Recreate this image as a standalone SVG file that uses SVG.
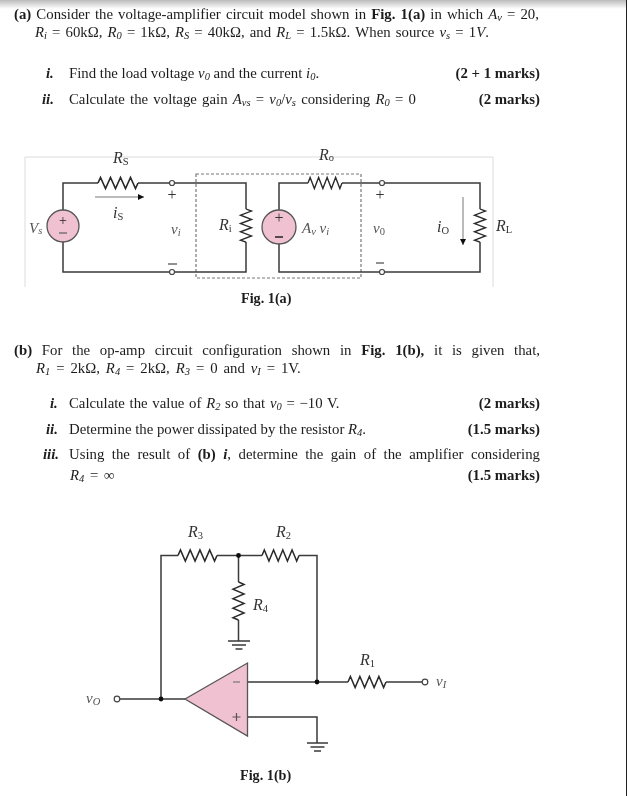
<svg xmlns="http://www.w3.org/2000/svg" width="627" height="796" viewBox="0 0 627 796">
<style>
text{font-family:"Liberation Serif","Times New Roman",serif;fill:#1c1c1c}
.t{font-size:14.8px}
.f{font-size:14.2px;font-weight:bold}
.b{font-weight:bold}
.i{font-style:italic}
.e{text-anchor:end}
.s{font-size:10.5px}
.l{font-size:16px;fill:#333}
.m{font-size:15px;fill:#555;font-style:italic}
.w{fill:none;stroke:#3a3a3a;stroke-width:1.5}
.g{fill:none;stroke:#dcdcdc;stroke-width:1}
.d{fill:none;stroke:#777;stroke-width:1.2;stroke-dasharray:3 2}
.z{fill:none;stroke:#2a2a2a;stroke-width:1.6}
.p{fill:#f0c1d1;stroke:#555;stroke-width:1.3}
.o{fill:#fff;stroke:#444;stroke-width:1.2}
.n{fill:#111}
.h{fill:none;stroke:#777;stroke-width:1}
</style>
<defs>
<linearGradient id="shade" x1="0" y1="0" x2="0" y2="1"><stop offset="0" stop-color="#bbb"/><stop offset="1" stop-color="#fff"/></linearGradient>
<filter id="soft" x="-2%" y="-2%" width="104%" height="104%"><feGaussianBlur stdDeviation="0.35"/></filter>
<path id="res" d="M0 0L2.500-5.500L7.500 5.500L12.500-5.500L17.500 5.500L22.500-5.500L27.500 5.500L32.500-5.500L37.500 5.500L40 0"/>
<marker id="ah" markerWidth="7" markerHeight="6" refX="6" refY="3" orient="auto"><path d="M0 0L6 3L0 6z" fill="#111"/></marker>
</defs>
<rect width="627" height="796" fill="#fff"/>
<rect width="627" height="9" fill="url(#shade)"/>
<line x1="626.500" y1="0" x2="626.500" y2="796" stroke="#222"/>
<g filter="url(#soft)">
<g id="text-a">
<text class="t" x="14" y="19" word-spacing="1.400"><tspan class="b">(a)</tspan> Consider the voltage-amplifier circuit model shown in <tspan class="b">Fig. 1(a)</tspan> in which <tspan class="i">A<tspan class="s" dy="2">v</tspan></tspan><tspan dy="-2"> = 20,</tspan></text>
<text class="t" x="35" y="37" word-spacing="1.400"><tspan class="i">R<tspan class="s" dy="2">i</tspan></tspan><tspan dy="-2"> = 60kΩ,  </tspan><tspan class="i">R<tspan class="s" dy="2">0</tspan></tspan><tspan dy="-2"> = 1kΩ, </tspan><tspan class="i">R<tspan class="s" dy="2">S</tspan></tspan><tspan dy="-2"> = 40kΩ, and </tspan><tspan class="i">R<tspan class="s" dy="2">L</tspan></tspan><tspan dy="-2"> = 1.5kΩ. When source </tspan><tspan class="i">v<tspan class="s" dy="2">s</tspan></tspan><tspan dy="-2"> = 1</tspan><tspan class="i">V</tspan>.</text>
<text class="t b i" x="46" y="78">i.</text>
<text class="t" x="69" y="78">Find the load voltage <tspan class="i">v<tspan class="s" dy="2">0</tspan></tspan><tspan dy="-2"> and the current </tspan><tspan class="i">i<tspan class="s" dy="2">0</tspan></tspan><tspan dy="-2">.</tspan></text>
<text class="t b e" x="540" y="78">(2 + 1 marks)</text>
<text class="t b i" x="42" y="104">ii.</text>
<text class="t" x="69" y="104" word-spacing="1.500">Calculate the voltage gain <tspan class="i">A<tspan class="s" dy="2">vs</tspan></tspan><tspan dy="-2"> = </tspan><tspan class="i">v<tspan class="s" dy="2">0</tspan></tspan><tspan dy="-2">/</tspan><tspan class="i">v<tspan class="s" dy="2">s</tspan></tspan><tspan dy="-2"> considering </tspan><tspan class="i">R<tspan class="s" dy="2">0</tspan></tspan><tspan dy="-2"> = 0</tspan></text>
<text class="t b e" x="540" y="104">(2 marks)</text>
</g>
<g id="connectors-a">
<path class="g" d="M25 287V157H493V287"/>
<rect class="d" x="196" y="174" width="165" height="104"/>
<path class="w" d="M63 210V183H98M138 183H169.500M174.500 183H246V209M246 242V272H174.500M169.500 272H63V242"/>
<path class="w" d="M279 210V183H308M342 183H379.500M384.500 183H480V209M480 242V272H384.500M379.500 272H279V244"/>
<line class="h" x1="95" y1="197" x2="144" y2="197" marker-end="url(#ah)"/>
<line class="h" x1="463" y1="197" x2="463" y2="245" marker-end="url(#ah)"/>
</g>
<g id="Vs"><circle class="p" cx="63" cy="226" r="16"/><text x="63" y="225" text-anchor="middle" font-size="14">+</text><path d="M59 233H67" stroke="#666" stroke-width="1.300"/><text class="m" x="29" y="233">V<tspan class="s" dy="1">s</tspan></text></g>
<g id="Rs"><use href="#res" class="z" x="98" y="183"/><text class="l i" x="113" y="163"><tspan>R</tspan><tspan class="s" font-style="normal" dy="2">S</tspan></text></g>
<g id="is"><text class="l i" x="113" y="218">i<tspan class="s" font-style="normal" dy="2">S</tspan></text></g>
<g id="vi-port"><circle class="o" cx="172" cy="183" r="2.500"/><circle class="o" cx="172" cy="272" r="2.500"/><text class="l" x="172" y="200" text-anchor="middle">+</text><path d="M168 264H177" stroke="#555" stroke-width="1.300"/><text class="m" x="171" y="234">v<tspan class="s" dy="2">i</tspan></text></g>
<g id="Ri"><use href="#res" class="z" transform="translate(246 209) rotate(90) scale(.83 1)"/><text class="l i" x="219" y="230">R<tspan class="s" font-style="normal" dy="2">i</tspan></text></g>
<g id="Av-source"><circle class="p" cx="279" cy="227" r="17"/><text class="l" x="279" y="223" text-anchor="middle">+</text><path d="M275 237H283" stroke="#222" stroke-width="1.500"/><text class="m" x="302" y="233" font-size="14">A<tspan class="s" dy="2">v</tspan><tspan dy="-2"> v</tspan><tspan class="s" dy="2">i</tspan></text></g>
<g id="Ro"><use href="#res" class="z" transform="translate(308 183) scale(.85 1)"/><text class="l i" x="319" y="160">R<tspan class="s" font-style="normal" dy="1">o</tspan></text></g>
<g id="v0-port"><circle class="o" cx="382" cy="183" r="2.500"/><circle class="o" cx="382" cy="272" r="2.500"/><text class="l" x="380" y="200" text-anchor="middle">+</text><path d="M376 263H384" stroke="#555" stroke-width="1.300"/><text class="m" x="373" y="233">v<tspan class="s" font-style="normal" dy="2">0</tspan></text></g>
<g id="io"><text class="l i" x="437" y="232">i<tspan class="s" font-style="normal" dy="2">O</tspan></text></g>
<g id="RL"><use href="#res" class="z" transform="translate(480 209) rotate(90) scale(.83 1)"/><text class="l i" x="496" y="231">R<tspan class="s" font-style="normal" dy="2">L</tspan></text></g>
<text id="fig-a" class="f" x="241" y="303">Fig. 1(a)</text>
<g id="text-b">
<text class="t" x="14" y="355" word-spacing="6"><tspan class="b">(b)</tspan> For the op-amp circuit configuration shown in <tspan class="b">Fig. 1(b),</tspan> it is given that,</text>
<text class="t" x="36" y="373" word-spacing="2.200"><tspan class="i">R<tspan class="s" dy="2">1</tspan></tspan><tspan dy="-2"> = 2kΩ, </tspan><tspan class="i">R<tspan class="s" dy="2">4</tspan></tspan><tspan dy="-2"> = 2kΩ, </tspan><tspan class="i">R<tspan class="s" dy="2">3</tspan></tspan><tspan dy="-2"> = 0 and </tspan><tspan class="i">v<tspan class="s" dy="2">I</tspan></tspan><tspan dy="-2"> = 1V.</tspan></text>
<text class="t b i" x="50" y="408">i.</text>
<text class="t" x="69" y="408" word-spacing="1">Calculate the value of <tspan class="i">R<tspan class="s" dy="2">2</tspan></tspan><tspan dy="-2"> so that </tspan><tspan class="i">v<tspan class="s" dy="2">0</tspan></tspan><tspan dy="-2"> = −10 V.</tspan></text>
<text class="t b e" x="540" y="408">(2 marks)</text>
<text class="t b i" x="46" y="434">ii.</text>
<text class="t" x="69" y="434">Determine the power dissipated by the resistor <tspan class="i">R<tspan class="s" dy="2">4</tspan></tspan><tspan dy="-2">.</tspan></text>
<text class="t b e" x="540" y="434">(1.5 marks)</text>
<text class="t b i" x="43" y="459">iii.</text>
<text class="t" x="69" y="459" word-spacing="3.800">Using the result of <tspan class="b">(b)</tspan> <tspan class="b i">i</tspan>, determine the gain of the amplifier considering</text>
<text class="t" x="70" y="480" word-spacing="2"><tspan class="i">R<tspan class="s" dy="2">4</tspan></tspan><tspan dy="-2"> = ∞</tspan></text>
<text class="t b e" x="540" y="480">(1.5 marks)</text>
</g>
<g id="connectors-b">
<path class="w" d="M161 699V555.500H178M217 555.500H262M299 555.500H317V682"/>
<path class="w" d="M238.500 555.500V582M238.500 620V641"/>
<path class="w" d="M119.800 699H185M247.500 682H348M386 682H422.200M247.500 717H317V743"/>
</g>
<g id="R3"><use href="#res" class="z" transform="translate(178 555.500) scale(.975 1)"/><text class="l i" x="188" y="537">R<tspan class="s" font-style="normal" dy="2">3</tspan></text></g>
<g id="R2"><use href="#res" class="z" transform="translate(262 555.500) scale(.925 1)"/><text class="l i" x="276" y="537">R<tspan class="s" font-style="normal" dy="2">2</tspan></text></g>
<g id="R4"><use href="#res" class="z" transform="translate(238.500 582) rotate(90) scale(.95 1)"/><text class="l i" x="253" y="610">R<tspan class="s" font-style="normal" dy="2">4</tspan></text></g>
<g id="R1"><use href="#res" class="z" transform="translate(348 682) scale(.95 1)"/><text class="l i" x="360" y="665">R<tspan class="s" font-style="normal" dy="2">1</tspan></text></g>
<g id="node-a"><circle class="n" cx="238.500" cy="555.500" r="2.400"/></g>
<g id="node-b"><circle class="n" cx="317" cy="682" r="2.400"/></g>
<g id="node-c"><circle class="n" cx="161" cy="699" r="2.400"/></g>
<g id="ground-1"><path class="w" d="M228 641H250M232 645H246M235.500 649H242.500"/></g>
<g id="ground-2"><path class="w" d="M307 743H328M310.500 747H324.500M314 751H321"/></g>
<g id="opamp"><path class="p" d="M185 699L247.500 663V736z"/><path d="M233 682H240" stroke="#777" stroke-width="1.200"/><path d="M232.500 717H240.500M236.500 713V721" stroke="#555" stroke-width="1.200"/></g>
<g id="vO"><circle class="o" cx="117" cy="699" r="2.800"/><text class="m" x="86" y="703">v<tspan class="s" dy="2">O</tspan></text></g>
<g id="vI"><circle class="o" cx="425" cy="682" r="2.800"/><text class="m" x="436" y="686">v<tspan class="s" dy="2">I</tspan></text></g>
<text id="fig-b" class="f" x="240" y="780">Fig. 1(b)</text>
</g>
</svg>
